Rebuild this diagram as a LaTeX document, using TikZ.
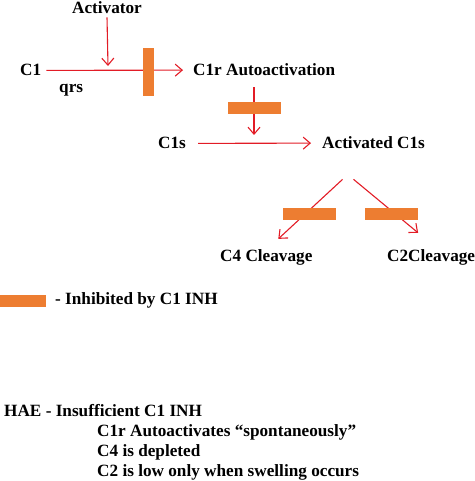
\documentclass[tikz,border=0pt]{standalone}
\usepackage{fontspec}
\setmainfont{Liberation Serif}
\usetikzlibrary{arrows.meta}
\definecolor{inhorange}{RGB}{237,125,49}
\definecolor{arrred}{RGB}{226,28,38}

\begin{document}
\begin{tikzpicture}[x=1pt,y=-1pt,
  every node/.style={font=\fontsize{17.2}{20}\selectfont\bfseries,inner sep=0pt},
  lbl/.style={anchor=base west},
  arr/.style={draw=arrred,line width=1.1pt,-{Straight Barb[length=7pt,width=12pt]}},
  hbar/.style={fill=inhorange,minimum width=53pt,minimum height=12pt},
  vbar/.style={fill=inhorange,minimum width=11pt,minimum height=48pt}]
  \useasboundingbox (0,0) rectangle (474,481);
  % labels
  \node[anchor=base] (act) at (107,14) {Activator};
  \node[lbl] (c1) at (20,76) {C1};
  \node[lbl] (qrs) at (59,93) {qrs};
  \node[lbl] (c1r) at (193,76) {C1r Autoactivation};
  \node[lbl] (c1s) at (158,149) {C1s};
  \node[lbl] (act1s) at (322,149) {Activated C1s};
  \node[lbl] (c4) at (220,261) {C4 Cleavage};
  \node[lbl] (c2) at (387,261) {C2Cleavage};
  \coordinate (hit) at (108,66);
  \coordinate (t2) at (254,135);
  % arrows
  \draw[arr] ([yshift=-3pt]act.south) -- (hit);
  \draw[arr] ([xshift=5pt]c1.east) -- ([xshift=-10pt]c1r.west);
  \draw[arr,shorten <=11pt] (c1r.south -| t2) -- (t2);
  \draw[arr] ([xshift=12pt]c1s.east) -- ([xshift=-11pt]act1s.west);
  \draw[arr] ([xshift=-31pt,yshift=-30pt]act1s.south) -- ([xshift=12pt,yshift=10pt]c4.north);
  \draw[arr] ([xshift=-20pt,yshift=-30pt]act1s.south) -- ([xshift=-13pt,yshift=16pt]c2.north);
  % inhibitors
  \node[vbar] (bar1) at (148.5,72) {};
  \node[hbar] (bar2) at (254.5,108) {};
  \node[hbar] (bar3) at (309.5,214) {};
  \node[hbar] (bar4) at (391,214) {};
  % legend and notes
  \node[hbar,minimum width=46pt] (key) at (23,301) {};
  \node[lbl] (keytxt) at (55,304) {- Inhibited by C1 INH};
  \node[lbl] (hae) at (4,416) {HAE - Insufficient C1 INH};
  \node[lbl] (note1) at (97,436) {C1r Autoactivates “spontaneously”};
  \node[lbl] (note2) at (97,456) {C4 is depleted};
  \node[lbl] (note3) at (97,476) {C2 is low only when swelling occurs};
\end{tikzpicture}
\end{document}
